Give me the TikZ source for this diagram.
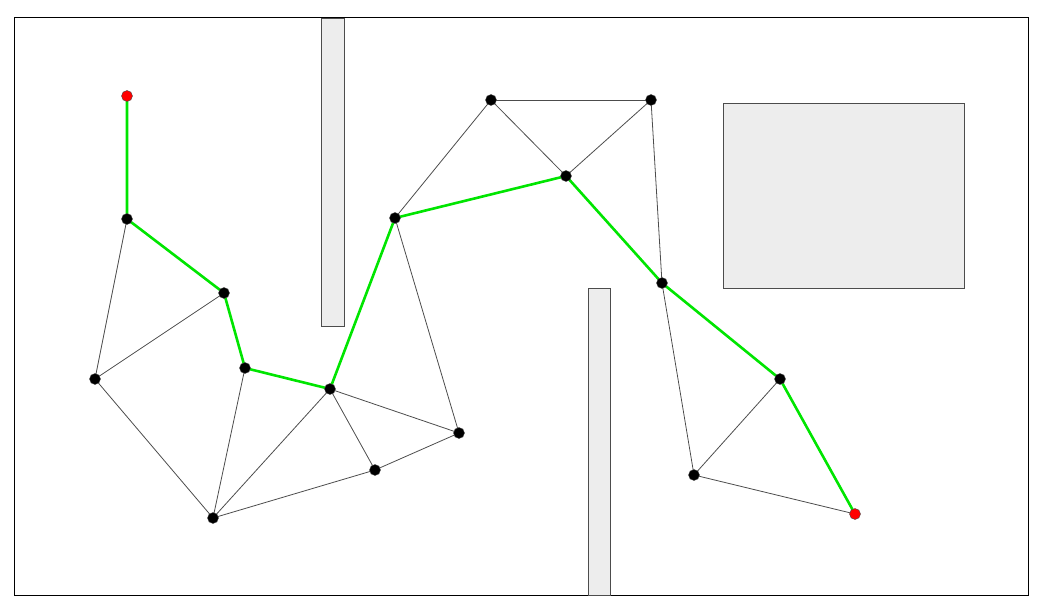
\documentclass[tikz,border=0pt]{standalone}
\begin{document}
\begin{tikzpicture}[x=1pt,y=-1pt,
 vtx/.style={circle,draw=black!70,fill=black,inner sep=0pt,minimum size=11pt},
 goal/.style={vtx,fill=red},
 obst/.style={draw=black!70,fill=black!7},
 edge/.style={draw=black!70,line width=0.8pt},
 pth/.style={draw=green!90!black,line width=2.6pt}]
\useasboundingbox (0,0) rectangle (1044,615);
\draw[black,line width=0.8pt] (14,17) rectangle (1028,595);
\draw[obst] (321,18) rectangle (344,326);
\draw[obst] (588,288) rectangle (610,595);
\draw[obst] (723,103) rectangle (964,288);
\coordinate (s) at (127,96);
\coordinate (a) at (127,219);
\coordinate (b) at (224,293);
\coordinate (c) at (95,379);
\coordinate (d) at (245,368);
\coordinate (e) at (330,389);
\coordinate (f) at (213,518);
\coordinate (g) at (375,470);
\coordinate (h) at (459,433);
\coordinate (i) at (395,218);
\coordinate (j) at (491,100);
\coordinate (k) at (651,100);
\coordinate (l) at (566,176);
\coordinate (m) at (662,283);
\coordinate (n) at (780,379);
\coordinate (o) at (694,475);
\coordinate (t) at (855,514);
\foreach \u/\v in {a/c,c/b,c/f,f/d,f/e,f/g,e/g,e/h,g/h,i/h,i/j,j/k,j/l,k/l,k/m,m/o,o/n,o/t}
  \draw[edge] (\u) -- (\v);
\draw[pth] (s) -- (a) -- (b) -- (d) -- (e) -- (i) -- (l) -- (m) -- (n) -- (t);
\foreach \p in {a,b,c,d,e,f,g,h,i,j,k,l,m,n,o}
  \node[vtx] (v\p) at (\p) {};
\node[goal] (vs) at (s) {};
\node[goal] (vt) at (t) {};
\end{tikzpicture}
\end{document}
